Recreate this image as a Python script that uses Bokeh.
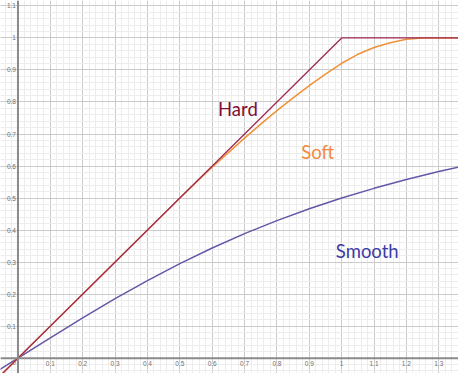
from bokeh.plotting import figure
from bokeh.models import Grid, SingleIntervalTicker, Span
from bokeh.core.properties import value
from bokeh.embed import file_html
from bokeh.resources import INLINE

# ---- data ----
hard_x = [-0.06, 1.0, 1.37]
hard_y = [-0.06, 1.0, 1.0]

soft_x = [-0.06, 0.5, 0.55, 0.6, 0.65, 0.7, 0.75, 0.8, 0.85, 0.9, 0.95, 1.0, 1.05, 1.1, 1.15, 1.2, 1.25, 1.37]
soft_y = [-0.06, 0.5, 0.549, 0.596, 0.642, 0.687, 0.731, 0.773, 0.813, 0.851, 0.887, 0.921, 0.949, 0.97, 0.985, 0.996, 1.0, 1.0]

smooth_x = [-0.06, 0.0, 0.1, 0.2, 0.3, 0.4, 0.5, 0.6, 0.7, 0.8, 0.9, 1.0, 1.1, 1.2, 1.3, 1.37]
smooth_y = [-0.038, 0.0, 0.0635, 0.1257, 0.1856, 0.2422, 0.2952, 0.344, 0.3888, 0.4296, 0.4665, 0.5, 0.5303, 0.5577, 0.5826, 0.5987]

x_ticks = [0.1, 0.2, 0.3, 0.4, 0.5, 0.6, 0.7, 0.8, 0.9, 1.0, 1.1, 1.2, 1.3]
x_tick_labels = ["0.1", "0.2", "0.3", "0.4", "0.5", "0.6", "0.7", "0.8", "0.9", "1", "1.1", "1.2", "1.3"]
y_ticks = [0.1, 0.2, 0.3, 0.4, 0.5, 0.6, 0.7, 0.8, 0.9, 1.0, 1.1]
y_tick_labels = ["0.1", "0.2", "0.3", "0.4", "0.5", "0.6", "0.7", "0.8", "0.9", "1", "1.1"]

series_names = ["Hard", "Soft", "Smooth"]
label_x = [0.618, 0.875, 0.982]
label_y = [0.778, 0.644, 0.335]

# ---- figure ----
p = figure(width=458, height=373, x_range=(-0.054, 1.361), y_range=(-0.048, 1.117),
           output_backend="svg", toolbar_location=None,
           x_axis_location=None, y_axis_location=None, min_border=0)
p.outline_line_color = None
p.background_fill_color = "white"

for dim in (0, 1):
    g = Grid(dimension=dim, ticker=SingleIntervalTicker(interval=0.1, num_minor_ticks=5))
    g.grid_line_color = "#cbcbcb"
    g.grid_line_width = 1
    g.minor_grid_line_color = "#ededed"
    g.minor_grid_line_width = 1
    p.add_layout(g)

p.add_layout(Span(location=0, dimension="width", line_color="#8a8a8a", line_width=2))
p.add_layout(Span(location=0, dimension="height", line_color="#8a8a8a", line_width=2))

# tick labels
p.text(x=x_ticks, y=[0] * len(x_ticks), text=x_tick_labels, text_align="center",
       text_baseline="top", y_offset=3, text_font_size="6.5px", text_color="#707070",
       text_font=value("Liberation Sans"))
p.text(x=[0] * len(y_ticks), y=y_ticks, text=y_tick_labels, text_align="right",
       text_baseline="middle", x_offset=-2, text_font_size="6.5px", text_color="#707070",
       text_font=value("Liberation Sans"))
p.text(x=[0], y=[0], text=["0"], text_align="right", text_baseline="top",
       x_offset=-2, y_offset=2, text_font_size="6.5px", text_color="#707070",
       text_font=value("Liberation Sans"))

# curves
p.line(smooth_x, smooth_y, line_color="#6756a8", line_width=1.5)
p.line(soft_x, soft_y, line_color="#f0923a", line_width=1.5)
p.line(hard_x, hard_y, line_color="#9e2a52", line_width=1.3)

# labels
colors = ["#800e32", "#f08a3c", "#3b3ba8"]
for n, lx, ly, c in zip(series_names, label_x, label_y, colors):
    p.text(x=[lx], y=[ly], text=[n], text_align="left", text_baseline="middle",
           text_font_size="18.5px", text_color=c, text_font=value("Lato"))

open("out.html", "w").write(file_html(p, INLINE))
